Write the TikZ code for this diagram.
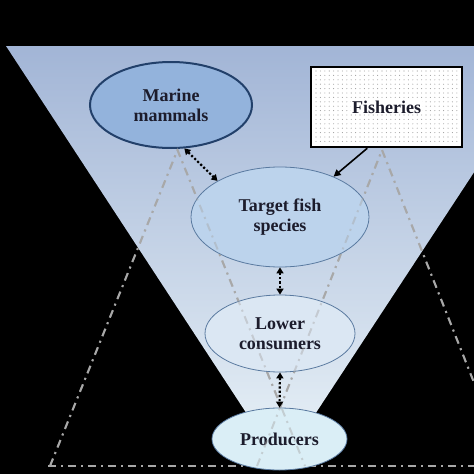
\documentclass[tikz,border=0pt]{standalone}
\usepackage{fontspec}
\setmainfont{Liberation Serif}
\usetikzlibrary{shapes.geometric,arrows.meta}
\definecolor{funneltop}{HTML}{A2B5D6}
\definecolor{funnelbot}{HTML}{EAF3F8}
\definecolor{mmfill}{HTML}{93B3DC}
\definecolor{mmline}{HTML}{22406A}
\definecolor{tffill}{HTML}{BCD3EC}
\definecolor{lcfill}{HTML}{DBE7F3}
\definecolor{prfill}{HTML}{DAEEF6}
\definecolor{elline}{HTML}{5A7AA0}
\definecolor{txt}{HTML}{1C1C2C}
\definecolor{guide}{HTML}{A8A8A8}
\tikzset{
  lbl/.style={font=\fontsize{18}{20}\selectfont\bfseries, text=txt, align=center},
  ell/.style={ellipse, inner sep=0pt, lbl},
  guideline/.style={draw=guide, line width=2pt, dash pattern=on 8pt off 5pt on 2pt off 5pt},
  dotarrow/.style={draw=black, line width=2.2pt, dash pattern=on 2.2pt off 2pt,
    {Triangle[length=6pt,width=7pt]}-{Triangle[length=6pt,width=7pt]}},
  solidarrow/.style={draw=black, line width=1.6pt, -{Triangle[length=7pt,width=7pt]}}
}
\begin{document}
\begin{tikzpicture}[x=1pt,y=-1pt]
\useasboundingbox (0,0) rectangle (474,474);
\clip (0,0) rectangle (474,474);
\fill[black] (0,0) rectangle (474,474);
% funnel
\shade[top color=funneltop, bottom color=funnelbot] (6,46) -- (557,46) -- (281,466) -- cycle;
% guide lines
\coordinate (la) at (50,466);
\coordinate (lt) at (177.5,150);
\coordinate (lb) at (305,466);
\coordinate (ra) at (257,466);
\coordinate (rt) at (382,150);
\coordinate (rb) at (507,466);
\coordinate (bl) at (48,466);
\coordinate (br) at (480,466);
\draw[guideline] (la) -- (lt) -- (lb);
\draw[guideline] (ra) -- (rt) -- (rb);
\draw[guideline] (bl) -- (br);
% nodes
\node[ell, fill=mmfill, draw=mmline, line width=2pt, minimum width=162pt, minimum height=86pt] (mm) at (171,105) {Marine\\mammals};
\node[draw=black, line width=2.5pt, fill=white, minimum width=151pt, minimum height=80pt, inner sep=0pt] (fish) at (386.5,107) {};
\foreach \i in {0,...,32} {
  \foreach \j in {0,...,16} {
    \fill[gray!75] (316+4.4*\i, 71+4.4*\j) circle (0.55pt);
  }
}
\node[lbl, fill=white, inner sep=1pt] at (fish) {Fisheries};
\node[ell, fill=tffill, draw=elline, line width=0.8pt, minimum width=178pt, minimum height=100pt] (tf) at (280,217) {Target fish\\species};
\node[ell, fill=lcfill, draw=elline, line width=0.8pt, minimum width=150pt, minimum height=77pt] (lc) at (280,333.5) {Lower\\consumers};
\node[ell, fill=prfill, draw=elline, line width=0.8pt, minimum width=135pt, minimum height=62pt] (pr) at (279.5,439) {Producers};
% guide lines seen faintly through the ellipses
\begin{scope}[opacity=0.45]
\draw[guideline] (la) -- (lt) -- (lb);
\draw[guideline] (ra) -- (rt) -- (rb);
\end{scope}
% connectors
\draw[dotarrow] (mm.-73) -- (tf.150);
\draw[solidarrow] (fish.-115) -- (tf.37);
\draw[dotarrow] (tf.south) -- (lc.north);
\draw[dotarrow] (lc.south) -- (pr.north);
\end{tikzpicture}
\end{document}
